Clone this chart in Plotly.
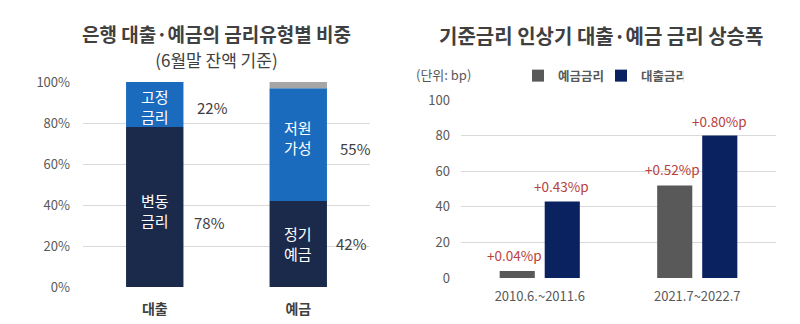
import plotly.graph_objects as go

W, H = 800, 324
FONT = "Noto Sans CJK KR"

# ---------- left chart data ----------
left_categories = ["대출", "예금"]
left_bottom_values = [78, 42]      # 변동금리 / 정기예금
left_top_values = [22, 55]         # 고정금리 / 저원가성
left_other_values = [0, 3]
left_bottom_labels = ["변동<br>금리", "정기<br>예금"]
left_top_labels = ["고정<br>금리", "저원<br>가성"]
left_bottom_pct = ["78%", "42%"]
left_top_pct = ["22%", "55%"]
left_yticks = [0, 20, 40, 60, 80, 100]
left_yticklabels = [f"{v}%" for v in left_yticks]

# ---------- right chart data ----------
right_categories = ["2010.6.~2011.6", "2021.7~2022.7"]
deposit_name = "예금금리"
loan_name = "대출금리"
deposit_values = [4, 52]
loan_values = [43, 80]
deposit_text = ["+0.04%p", "+0.52%p"]
loan_text = ["+0.43%p", "+0.80%p"]
right_yticks = [0, 20, 40, 60, 80, 100]

NAVY_L = "#1b2a4b"
BLUE_L = "#1a6bbd"
GRAY_L = "#a6a6a6"
GRAY_R = "#595959"
NAVY_R = "#0b2260"
RED = "#b8403d"
TXT = "#404040"
TICK = "#595959"
GRID = "#d9d9d9"


def px_x(p):
    return p / W


def px_y(p):
    return (H - p) / H


fig = go.Figure()

# left stacked bars (explicit bases computed from the data)
bases_top = [b for b in left_bottom_values]
bases_other = [b + t for b, t in zip(left_bottom_values, left_top_values)]
for vals, base, col in [(left_bottom_values, [0, 0], NAVY_L),
                        (left_top_values, bases_top, BLUE_L),
                        (left_other_values, bases_other, GRAY_L)]:
    fig.add_trace(go.Bar(x=left_categories, y=vals, base=base,
                         marker=dict(color=col, line=dict(width=0)),
                         width=0.4, offset=-0.2, xaxis="x", yaxis="y",
                         showlegend=False, hoverinfo="skip"))

# right grouped bars
BW = 0.223
fig.add_trace(go.Bar(x=right_categories, y=deposit_values, name=deposit_name,
                     marker=dict(color=GRAY_R, line=dict(width=0)),
                     width=BW, offset=-0.143 - BW / 2,
                     xaxis="x2", yaxis="y2", hoverinfo="skip"))
fig.add_trace(go.Bar(x=right_categories, y=loan_values, name=loan_name,
                     marker=dict(color=NAVY_R, line=dict(width=0)),
                     width=BW, offset=0.143 - BW / 2,
                     xaxis="x2", yaxis="y2", hoverinfo="skip"))

annotations = []
for i, cat in enumerate(left_categories):
    yb = left_bottom_values[i] / 2
    yt = left_bottom_values[i] + left_top_values[i] / 2
    annotations.append(dict(x=cat, y=yb, xref="x", yref="y", text=left_bottom_labels[i],
                            showarrow=False, font=dict(color="white", size=15, family=FONT),
                            yshift=(-3 if i == 0 else 0)))
    annotations.append(dict(x=cat, y=yt, xref="x", yref="y", text=left_top_labels[i],
                            showarrow=False, font=dict(color="white", size=15, family=FONT),
                            yshift=(-2 if i == 0 else 7)))
    annotations.append(dict(x=cat, y=yb, xref="x", yref="y", text=left_bottom_pct[i],
                            showarrow=False, font=dict(color=TXT, size=15, family=FONT),
                            xshift=(55 if i == 0 else 53), yshift=(-15 if i == 0 else 0)))
    annotations.append(dict(x=cat, y=yt, xref="x", yref="y", text=left_top_pct[i],
                            showarrow=False, font=dict(color=TXT, size=15, family=FONT),
                            xshift=(58 if i == 0 else 57), yshift=(-3 if i == 0 else -4)))

# value labels above the right-hand bars
for i, cat in enumerate(right_categories):
    annotations.append(dict(x=cat, y=deposit_values[i], xref="x2", yref="y2",
                            text=deposit_text[i], showarrow=False,
                            font=dict(color=RED, size=13.5, family=FONT),
                            xshift=-25, yshift=16, yanchor="middle"))
    annotations.append(dict(x=cat, y=loan_values[i], xref="x2", yref="y2",
                            text=loan_text[i], showarrow=False,
                            font=dict(color=RED, size=13.5, family=FONT),
                            xshift=22, yshift=15, yanchor="middle"))

# titles
annotations.append(dict(x=px_x(216), y=px_y(46), xref="paper", yref="paper",
                        text="<b>은행 대출·예금의 금리유형별 비중</b><br>"
                             "<span style='font-size:17px'>(6월말 잔액 기준)</span>",
                        showarrow=False, align="center",
                        font=dict(size=19, color=TXT, family=FONT),
                        xanchor="center", yanchor="middle"))
annotations.append(dict(x=px_x(601), y=px_y(35), xref="paper", yref="paper",
                        text="<b>기준금리 인상기 대출·예금 금리 상승폭</b>", showarrow=False,
                        font=dict(size=20, color=TXT, family=FONT),
                        xanchor="center", yanchor="middle"))
annotations.append(dict(x=px_x(414), y=px_y(74), xref="paper", yref="paper",
                        text="(단위: bp)", showarrow=False,
                        font=dict(size=13, color=TICK, family=FONT),
                        xanchor="left", yanchor="middle"))

fig.update_layout(
    width=W, height=H,
    margin=dict(l=0, r=0, t=0, b=0),
    paper_bgcolor="white", plot_bgcolor="white",
    barmode="overlay",
    font=dict(family=FONT, color=TICK),
    showlegend=True,
    legend=dict(orientation="h", x=px_x(518), y=px_y(76), xanchor="left", yanchor="middle",
                font=dict(size=12.5, color=TICK, family=FONT, weight="bold"),
                itemwidth=30, entrywidth=38, entrywidthmode="pixels",
                bgcolor="rgba(0,0,0,0)", traceorder="normal"),
    xaxis=dict(domain=[px_x(83), px_x(370)], anchor="y", type="category",
               range=[-0.5, 1.5], showgrid=False, showline=False, ticks="",
               tickfont=dict(size=14, color=TXT, family=FONT, weight="bold"),
               ticklabelstandoff=12, automargin=False, fixedrange=True),
    yaxis=dict(domain=[px_y(287), px_y(82)], anchor="x", range=[0, 100],
               tickmode="array", tickvals=left_yticks, ticktext=left_yticklabels,
               showgrid=True, gridcolor=GRID, gridwidth=1, zeroline=False, showline=False,
               tickfont=dict(size=13, color=TICK, family=FONT), ticklabelstandoff=12,
               automargin=False),
    xaxis2=dict(domain=[px_x(461), px_x(776)], anchor="y2", type="category",
                range=[-0.5, 1.5], showgrid=False, showline=False, ticks="",
                tickfont=dict(size=13, color=TICK, family=FONT),
                ticklabelstandoff=9, automargin=False),
    yaxis2=dict(domain=[px_y(278), px_y(100)], anchor="x2", range=[0, 100],
                tickmode="array", tickvals=right_yticks,
                showgrid=True, gridcolor=GRID, gridwidth=1, zeroline=False, showline=False,
                tickfont=dict(size=13, color=TICK, family=FONT), ticklabelstandoff=10,
                automargin=False),
    annotations=annotations,
)

fig.write_html("out.html", config={"displayModeBar": False})
